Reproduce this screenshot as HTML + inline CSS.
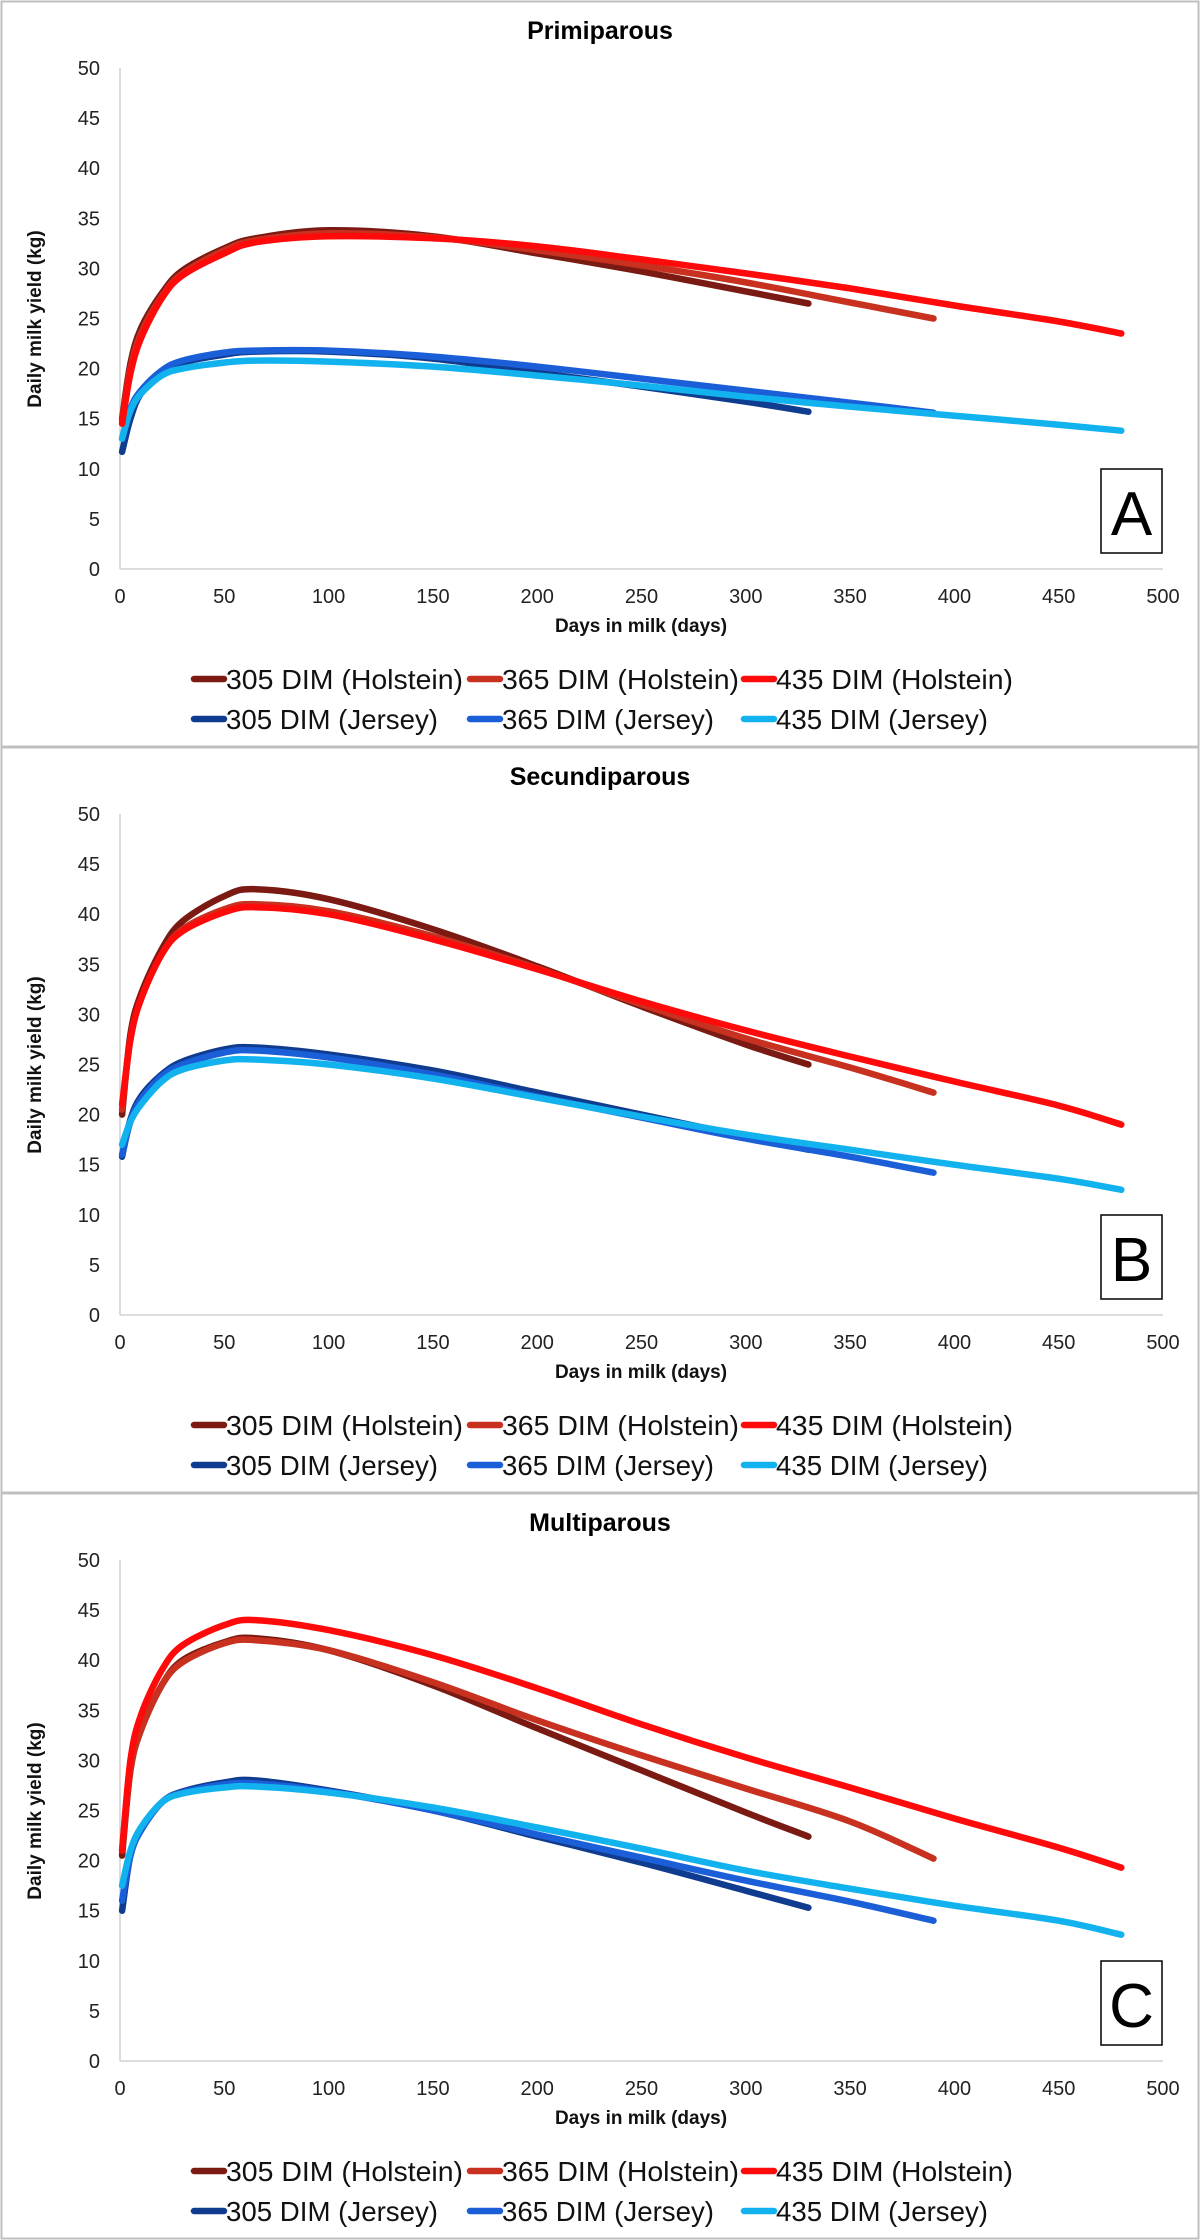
<!DOCTYPE html>
<html><head><meta charset="utf-8"><title>Lactation curves</title>
<style>
html,body{margin:0;padding:0;background:#fff;}
svg{display:block;font-family:"Liberation Sans",Arial,sans-serif;}
</style></head>
<body>
<svg id="fig" width="1200" height="2240" viewBox="0 0 1200 2240" xmlns="http://www.w3.org/2000/svg"></svg>
<script>
// ---- data ----
const panelTitles = ["Primiparous", "Secundiparous", "Multiparous"];
const panelLetters = ["A", "B", "C"];
const seriesNames = ["305 DIM (Holstein)", "365 DIM (Holstein)", "435 DIM (Holstein)", "305 DIM (Jersey)", "365 DIM (Jersey)", "435 DIM (Jersey)"];
const xTicks = [0, 50, 100, 150, 200, 250, 300, 350, 400, 450, 500];
const yTicks = [0, 5, 10, 15, 20, 25, 30, 35, 40, 45, 50];
const days305 = [1, 5, 10, 20, 30, 50, 65, 100, 150, 200, 250, 300, 330];
const days365 = [1, 5, 10, 20, 30, 50, 65, 100, 150, 200, 250, 300, 350, 390];
const days435 = [1, 5, 10, 20, 30, 50, 65, 100, 150, 200, 250, 300, 350, 400, 450, 480];
// Panel A
const a305H = [15, 20.5, 24, 27.5, 29.8, 32, 33, 33.8, 33.2, 31.5, 29.7, 27.7, 26.5];
const a365H = [14.8, 20, 23.5, 27.2, 29.5, 31.8, 32.8, 33.5, 33.1, 31.8, 30.3, 28.6, 26.6, 25.0];
const a435H = [14.5, 19.5, 23, 27, 29.3, 31.5, 32.6, 33.2, 33.0, 32.2, 30.9, 29.5, 28.0, 26.3, 24.7, 23.5];
const a305J = [11.7, 15, 17.5, 19.5, 20.6, 21.4, 21.7, 21.7, 21.0, 19.6, 18.2, 16.7, 15.7];
const a365J = [13, 16, 17.8, 19.8, 20.8, 21.6, 21.8, 21.8, 21.2, 20.2, 19.0, 17.8, 16.6, 15.6];
const a435J = [13, 15.8, 17.5, 19.3, 20.0, 20.6, 20.8, 20.7, 20.2, 19.3, 18.3, 17.2, 16.2, 15.3, 14.4, 13.8];
// Panel B
const b305H = [20, 28, 32, 36.5, 39.3, 41.8, 42.5, 41.5, 38.5, 34.8, 30.8, 27.0, 25.0];
const b365H = [20.5, 27.5, 31.5, 36, 38.5, 40.5, 41, 40.3, 37.8, 34.6, 31.0, 27.6, 24.7, 22.2];
const b435H = [21, 27.5, 31.5, 36, 38.3, 40.2, 40.7, 40.0, 37.5, 34.5, 31.3, 28.4, 25.8, 23.3, 20.9, 19.0];
const b305J = [15.8, 19.5, 21.8, 24, 25.3, 26.5, 26.7, 26.0, 24.4, 22.2, 20.0, 17.8, 16.5];
const b365J = [16, 19.3, 21.5, 23.8, 25, 26.2, 26.4, 25.7, 24.0, 21.8, 19.7, 17.6, 15.8, 14.2];
const b435J = [17, 19.3, 21, 23.3, 24.5, 25.4, 25.5, 25.0, 23.6, 21.7, 19.8, 18.0, 16.5, 15.0, 13.6, 12.5];
// Panel C
const c305H = [20.5, 29, 33, 37.5, 40, 41.8, 42.2, 41.0, 37.5, 33.2, 29.0, 24.8, 22.4];
const c365H = [21, 29, 33, 37.5, 39.8, 41.7, 42, 41.0, 37.8, 34.0, 30.5, 27.2, 23.9, 20.2];
const c435H = [21, 30, 34.5, 39, 41.5, 43.5, 44, 43.0, 40.5, 37.2, 33.6, 30.3, 27.3, 24.2, 21.3, 19.3];
const c305J = [15, 20.5, 23, 25.8, 26.9, 27.8, 28, 27.0, 25.0, 22.4, 19.8, 17.0, 15.3];
const c365J = [16, 20.5, 23, 25.8, 26.8, 27.6, 27.7, 26.9, 25.0, 22.6, 20.3, 18.0, 15.9, 14.0];
const c435J = [17.5, 21, 23.3, 25.8, 26.7, 27.3, 27.4, 26.8, 25.3, 23.3, 21.2, 19.0, 17.2, 15.5, 14.0, 12.6];

const panelSeries = [
  [a305H, a365H, a435H, a305J, a365J, a435J],
  [b305H, b365H, b435H, b305J, b365J, b435J],
  [c305H, c365H, c435H, c305J, c365J, c435J]
];
const seriesDays = [days305, days365, days435, days305, days365, days435];
const colors = ["#7a1a12", "#c8301f", "#ff0a0a", "#103c8f", "#1b5fd8", "#12b2ee"];

// ---- layout ----
const svg = document.getElementById('fig');
const NS = "http://www.w3.org/2000/svg";
const PANEL_H = 746;
const X0 = 120, X1 = 1163;
function mk(tag, attrs, parent) {
  const e = document.createElementNS(NS, tag);
  for (const k in attrs) e.setAttribute(k, attrs[k]);
  parent.appendChild(e);
  return e;
}
function xScale(d) { return X0 + (d / 500) * (X1 - X0); }
function yScaleFor(off) { return v => off + 569 - (v / 50) * (569 - 68); }
function smoothPath(pts) {
  let d = "M" + pts[0][0].toFixed(1) + "," + pts[0][1].toFixed(1);
  for (let i = 0; i < pts.length - 1; i++) {
    const p0 = pts[Math.max(0, i - 1)], p1 = pts[i], p2 = pts[i + 1], p3 = pts[Math.min(pts.length - 1, i + 2)];
    const c1x = p1[0] + (p2[0] - p0[0]) / 6, c1y = p1[1] + (p2[1] - p0[1]) / 6;
    const c2x = p2[0] - (p3[0] - p1[0]) / 6, c2y = p2[1] - (p3[1] - p1[1]) / 6;
    d += " C" + c1x.toFixed(1) + "," + c1y.toFixed(1) + " " + c2x.toFixed(1) + "," + c2y.toFixed(1) + " " + p2[0].toFixed(1) + "," + p2[1].toFixed(1);
  }
  return d;
}

for (let p = 0; p < 3; p++) {
  const off = p * PANEL_H;
  const yS = yScaleFor(off);
  const g = mk('g', {}, svg);
  
  

  const border = mk('rect', {x: 1.5, y: off + 1.5, width: 1197, height: PANEL_H - 1, fill: '#fff', stroke: '#bfbfbf', 'stroke-width': 2}, g);
  
  

  const title = mk('text', {x: 600, y: off + 39, 'text-anchor': 'middle', 'font-size': 25, 'font-weight': 'bold', fill: '#000'}, g);
  title.textContent = panelTitles[p];
  
  

  const yAxis = mk('line', {x1: X0, y1: yS(50), x2: X0, y2: yS(0), stroke: '#d0d0d0', 'stroke-width': 1.5}, g);
  
  
  const xAxis = mk('line', {x1: X0, y1: yS(0), x2: X1, y2: yS(0), stroke: '#d0d0d0', 'stroke-width': 1.5}, g);
  
  

  for (const t of yTicks) {
    const tl = mk('text', {x: 100, y: yS(t) + 7, 'text-anchor': 'end', 'font-size': 20, fill: '#222'}, g);
    tl.textContent = t;
    
    
  }
  for (const t of xTicks) {
    const tl = mk('text', {x: xScale(t), y: off + 603, 'text-anchor': 'middle', 'font-size': 20, fill: '#222'}, g);
    tl.textContent = t;
    
    
  }
  const xt = mk('text', {x: 641, y: off + 632, 'text-anchor': 'middle', 'font-size': 19, 'font-weight': 'bold', fill: '#111'}, g);
  xt.textContent = "Days in milk (days)";
  
  
  const yt = mk('text', {x: 0, y: 0, 'text-anchor': 'middle', 'font-size': 19, 'font-weight': 'bold', fill: '#111', transform: 'translate(41,' + (off + 319) + ') rotate(-90)'}, g);
  yt.textContent = "Daily milk yield (kg)";
  
  

  const order = [3, 4, 5, 0, 1, 2];
  for (const s of order) {
    const vals = panelSeries[p][s];
    const days = seriesDays[s];
    const pts = vals.map((v, i) => [xScale(days[i]), yS(v)]);
    const path = mk('path', {d: smoothPath(pts), fill: 'none', stroke: colors[s], 'stroke-width': 6.5, 'stroke-linecap': 'round', 'stroke-linejoin': 'round'}, g);
    
    
  }

  const box = mk('rect', {x: 1101, y: off + 469, width: 61, height: 84, fill: '#fff', stroke: '#000', 'stroke-width': 1.5}, g);
  
  
  const letter = mk('text', {x: 1131.5, y: off + 535, 'text-anchor': 'middle', 'font-size': 62, fill: '#000'}, g);
  letter.textContent = panelLetters[p];
  
  

  const lx = [191, 467, 741];
  const ly = [off + 679, off + 719];
  for (let s = 0; s < 6; s++) {
    const row = Math.floor(s / 3), col = s % 3;
    const lg = mk('g', {}, g);
    
    
    const sw = mk('line', {x1: lx[col] + 3, y1: ly[row], x2: lx[col] + 33, y2: ly[row], stroke: colors[s], 'stroke-width': 6.5, 'stroke-linecap': 'round'}, lg);
    
    
    const txt = mk('text', {x: lx[col] + 35, y: ly[row] + 10, 'font-size': 28, fill: '#111', textLength: row === 0 ? 237 : 212, lengthAdjust: 'spacingAndGlyphs'}, lg);
    txt.textContent = seriesNames[s];
    
    
  }
}
</script>
</body></html>
